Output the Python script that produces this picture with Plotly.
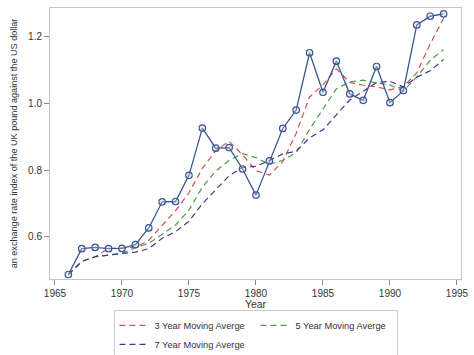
import plotly.graph_objects as go

years = list(range(1966, 1995))
rate_index = [0.488, 0.565, 0.569, 0.565, 0.566, 0.577, 0.627, 0.705, 0.706, 0.784,
              0.925, 0.865, 0.867, 0.803, 0.725, 0.827, 0.924, 0.979, 1.150, 1.032,
              1.125, 1.027, 1.008, 1.109, 1.001, 1.037, 1.233, 1.259, 1.266]
ma3 = [0.488, 0.527, 0.541, 0.566, 0.567, 0.569, 0.590, 0.636, 0.679, 0.732,
       0.805, 0.858, 0.886, 0.845, 0.798, 0.785, 0.825, 0.910, 1.018, 1.054,
       1.102, 1.061, 1.053, 1.048, 1.039, 1.049, 1.090, 1.176, 1.253]
ma5 = [0.488, 0.527, 0.541, 0.547, 0.551, 0.568, 0.581, 0.608, 0.636, 0.680,
       0.749, 0.797, 0.829, 0.849, 0.837, 0.817, 0.829, 0.852, 0.921, 0.982,
       1.042, 1.063, 1.068, 1.060, 1.054, 1.036, 1.078, 1.128, 1.159]
ma7 = [0.488, 0.527, 0.541, 0.547, 0.551, 0.555, 0.565, 0.596, 0.616, 0.647,
       0.699, 0.741, 0.783, 0.808, 0.811, 0.828, 0.848, 0.856, 0.896, 0.920,
       0.966, 1.009, 1.035, 1.061, 1.065, 1.048, 1.077, 1.096, 1.130]

x_ticks = [1965, 1970, 1975, 1980, 1985, 1990, 1995]
y_ticks = [0.6, 0.8, 1.0, 1.2]

font_family = "Liberation Sans, Arial, sans-serif"
dash = "6px,4px"

fig = go.Figure()
fig.add_trace(go.Scatter(x=years, y=ma3, mode="lines", name="3 Year Moving Averge",
                         line=dict(color="#d0505a", width=1.2, dash=dash)))
fig.add_trace(go.Scatter(x=years, y=ma5, mode="lines", name="5 Year Moving Averge",
                         line=dict(color="#4e9a4e", width=1.2, dash=dash)))
fig.add_trace(go.Scatter(x=years, y=ma7, mode="lines", name="7 Year Moving Averge",
                         line=dict(color="#3a3a92", width=1.2, dash=dash)))
fig.add_trace(go.Scatter(x=years, y=rate_index, mode="lines+markers", showlegend=False,
                         line=dict(color="#3d5590", width=1.3),
                         marker=dict(symbol="circle", size=6.5, color="rgba(200,212,235,0.35)",
                                     line=dict(color="#3d5590", width=1.2))))

axis_common = dict(showgrid=False, zeroline=False, showline=True, mirror=True,
                   linecolor="#c4c4c4", linewidth=1, ticks="outside", ticklen=5,
                   tickcolor="#8a8a8a", tickfont=dict(size=10, color="#333333"),
                   automargin=False)

fig.update_layout(
    width=474, height=355,
    margin=dict(l=50, r=13, t=8, b=76),
    paper_bgcolor="white", plot_bgcolor="white",
    font=dict(family=font_family, size=10, color="#333333"),
    xaxis=dict(range=[1964.63, 1995.3], tickvals=x_ticks,
               title=dict(text="Year", standoff=2, font=dict(size=10.5)), **axis_common),
    yaxis=dict(range=[0.4746, 1.2836], tickvals=y_ticks, tickformat=".1f",
               title=dict(text="an exchange rate index of the UK pound against the US dollar",
                          standoff=8, font=dict(size=9.1)), **axis_common),
    legend=dict(orientation="h", x=0.5, xanchor="center",
                yref="container", y=0.127, yanchor="top",
                bordercolor="#cccccc", borderwidth=1, entrywidth=96, entrywidthmode="pixels",
                itemwidth=30,
                font=dict(size=9.3, color="#333333"), traceorder="normal"),
)

fig.write_html("out.html", config={"displayModeBar": False},
               post_script="document.body.style.margin='0';")
